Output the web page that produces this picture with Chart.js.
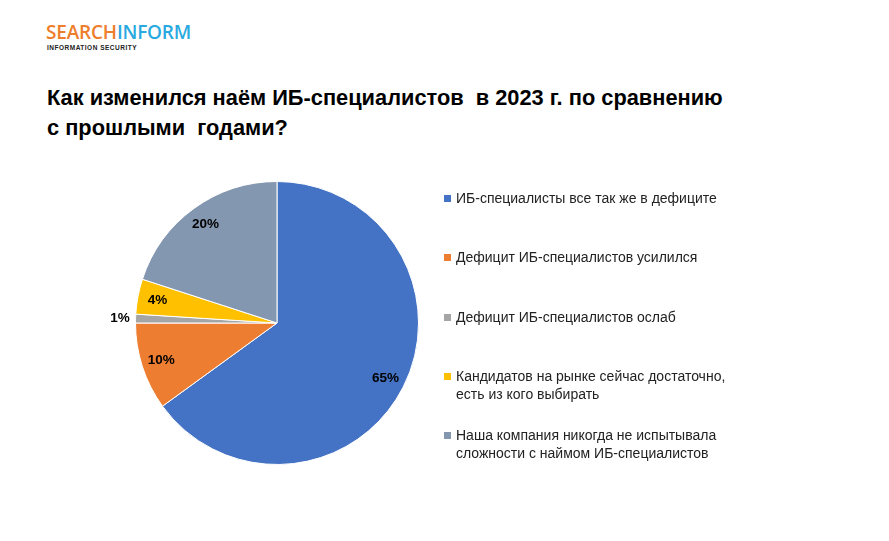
<!DOCTYPE html>
<html><head><meta charset="utf-8">
<script src="https://cdn.jsdelivr.net/npm/chart.js@4"></script>
<style>
body{margin:0;background:#fff;width:889px;height:541px;overflow:hidden;position:relative;font-family:"Liberation Sans",Arial,sans-serif}
#logo{position:absolute;left:46px;top:19px;font-family:"Open Sans",sans-serif;font-weight:600;font-size:19px;letter-spacing:-0.2px;color:#ee7d2c}
#logo span{color:#29a9e0}
#sub{position:absolute;left:47px;top:44px;font-size:6.5px;font-weight:bold;letter-spacing:0.5px;color:#222}
#title{position:absolute;left:47px;top:83px;font-size:21.8px;font-weight:bold;color:#000;line-height:30px}
canvas{position:absolute;left:0;top:0}
</style></head><body>
<div id="logo">SEARCH<span>INFORM</span></div>
<div id="sub">INFORMATION SECURITY</div>
<div id="title">Как изменился наём ИБ-специалистов&nbsp; в 2023 г. по сравнению<br>с прошлыми&nbsp; годами?</div>
<div style="position:absolute;left:0;top:0;width:889px;height:541px"><canvas id="c"></canvas></div>
<script>
const labels=[["ИБ-специалисты все так же в дефиците"],["Дефицит ИБ-специалистов усилился"],["Дефицит ИБ-специалистов ослаб"],["Кандидатов на рынке сейчас достаточно,","есть из кого выбирать"],["Наша компания никогда не испытывала","сложности с наймом ИБ-специалистов"]];
const values=[65,10,1,4,20];
const colors=["#4472c4","#ed7d31","#a5a5a5","#ffc000","#8497b0"];
const legendY=[199,258,318,377,436];
const plug={id:'extra',afterDatasetsDraw(ch){
 const ctx=ch.ctx;const meta=ch.getDatasetMeta(0);
 ctx.save();ctx.font='bold 13.5px "Liberation Sans",Arial';ctx.textAlign='center';ctx.textBaseline='middle';ctx.fillStyle='#000';
 meta.data.forEach((a,i)=>{const m=(a.startAngle+a.endAngle)/2;const r=a.outerRadius*(values[i]<2?1.11:0.86);
  ctx.fillText(values[i]+'%',a.x+Math.cos(m)*r,a.y+Math.sin(m)*r);});
 ctx.font='14px "Liberation Sans",Arial';ctx.textAlign='left';
 labels.forEach((l,i)=>{ctx.fillStyle=colors[i];ctx.fillRect(444,legendY[i]-4,7,7);ctx.fillStyle='#222';
  l.forEach((t,j)=>ctx.fillText(t,456,legendY[i]+j*18));});
 ctx.restore();}};
new Chart(document.getElementById('c'),{type:'pie',data:{labels:labels.map(l=>l.join(' ')),datasets:[{data:values,backgroundColor:colors,borderColor:'#fff',borderWidth:1}]},
options:{responsive:true,maintainAspectRatio:false,animation:false,layout:{padding:{left:135,top:181,right:470,bottom:76}},plugins:{legend:{display:false},tooltip:{enabled:false}}},plugins:[plug]});
</script></body></html>
